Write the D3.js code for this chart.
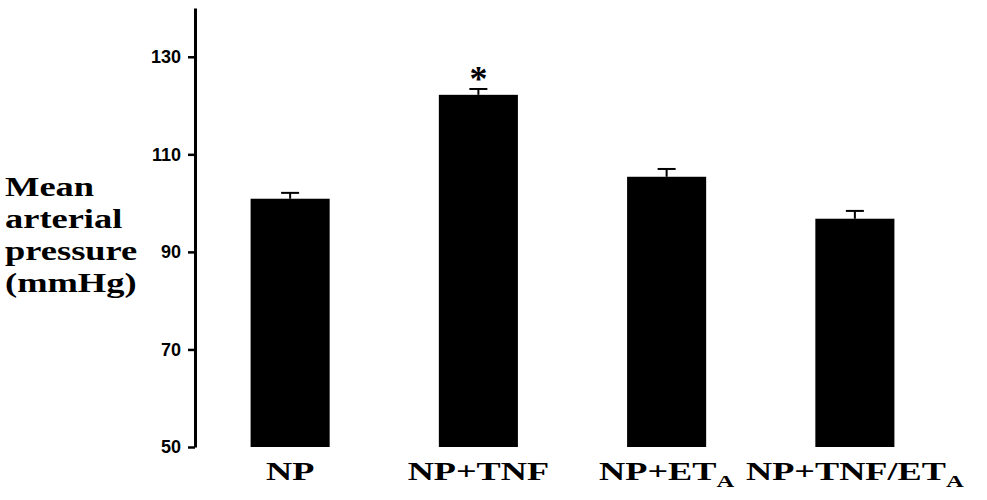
<!DOCTYPE html>
<html><head><meta charset="utf-8">
<script src="https://cdn.jsdelivr.net/npm/d3@7"></script>
<style>body{margin:0;background:#fff}</style></head>
<body><svg id="c" width="987" height="500"></svg>
<script>
const categories = ["NP", "NP+TNF", "NP+ET_A", "NP+TNF/ET_A"];
const values = [100.9, 122.2, 105.4, 96.8];
const errors = [1.2, 1.2, 1.6, 1.6];
const significant = [false, true, false, false];
const yTicks = [50, 70, 90, 110, 130];
const yLabelLines = ["Mean", "arterial", "pressure", "(mmHg)"];

const svg = d3.select("#c");
const y = d3.scaleLinear().domain([50, 140]).range([447, 8]);
const x = d3.scaleBand().domain(categories).range([196, 949]).paddingInner(0.58).paddingOuter(0.29);

const ax = svg.append("g").attr("transform", "translate(195,0)")
  .call(d3.axisLeft(y).tickValues(yTicks).tickSize(7).tickSizeOuter(0));
ax.select(".domain").attr("stroke", "#000").attr("stroke-width", 3);
ax.selectAll(".tick line").attr("stroke-width", 2.5);
ax.selectAll(".tick text").attr("font-family", "Liberation Sans, Arial").attr("font-weight", "bold")
  .attr("font-size", 18).attr("x", -14).attr("fill", "#000");

svg.selectAll("rect.bar").data(categories).enter().append("rect")
  .attr("x", d => x(d)).attr("width", x.bandwidth())
  .attr("y", (d, i) => y(values[i])).attr("height", (d, i) => y(50) - y(values[i]))
  .attr("fill", "#000");

const cx = d => x(d) + x.bandwidth() / 2;
svg.selectAll("line.err").data(categories).enter().append("line")
  .attr("x1", cx).attr("x2", cx)
  .attr("y1", (d, i) => y(values[i])).attr("y2", (d, i) => y(values[i] + errors[i]))
  .attr("stroke", "#000").attr("stroke-width", 2);
svg.selectAll("line.cap").data(categories).enter().append("line")
  .attr("x1", d => cx(d) - 9).attr("x2", d => cx(d) + 9)
  .attr("y1", (d, i) => y(values[i] + errors[i])).attr("y2", (d, i) => y(values[i] + errors[i]))
  .attr("stroke", "#000").attr("stroke-width", 2);

categories.forEach((c, i) => {
  if (significant[i]) svg.append("text").attr("x", cx(c)).attr("y", y(values[i] + errors[i]) + 2)
    .attr("text-anchor", "middle").attr("font-family", "Liberation Serif").attr("font-weight", "bold")
    .attr("font-size", 36).text("*");
  const parts = c.split("_");
  const t = svg.append("text").attr("transform", `translate(${cx(c)},480) scale(1.45,1)`)
    .attr("text-anchor", "middle")
    .attr("font-family", "Liberation Serif").attr("font-weight", "bold").attr("font-size", 25);
  t.append("tspan").text(parts[0]);
  if (parts[1]) t.append("tspan").attr("dy", 7).attr("font-size", 17).text(parts[1]);
});

const yl = svg.append("text").attr("transform", "translate(5,0) scale(1.35,1)")
  .attr("font-family", "Liberation Serif").attr("font-weight", "bold").attr("font-size", 27);
yLabelLines.forEach((l, i) => yl.append("tspan").attr("x", 0).attr("y", 196 + i * 32).text(l));
</script></body></html>
